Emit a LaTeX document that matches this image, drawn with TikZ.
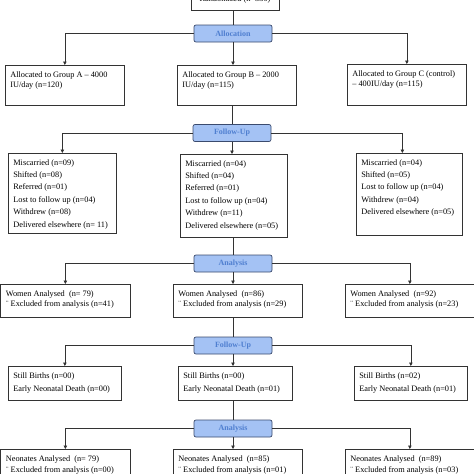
\documentclass[tikz,border=0pt]{standalone}
\usepackage{fontspec}
\setmainfont{Liberation Serif}
\usepackage{tikz}
\usetikzlibrary{arrows.meta, positioning}

\definecolor{linegray}{HTML}{333333}
\definecolor{stagefill}{HTML}{A4C2F4}
\definecolor{stageedge}{HTML}{3B4B6E}
\definecolor{stagetext}{HTML}{4F7FD0}

% box text: width, height (in pt), contents
\newcommand{\boxtext}[3]{\parbox[t][\dimexpr#2pt-12pt\relax][t]{\dimexpr#1pt-10pt\relax}{\raggedright #3}}

\tikzset{
  box/.style={draw=linegray, line width=0.7pt, anchor=north west, inner xsep=5pt, inner ysep=6pt, font=\fontsize{8.3}{10}\selectfont},
  stage/.style={draw=stageedge, fill=stagefill, rounded corners=2pt, line width=0.7pt, minimum width=78pt, minimum height=17pt, inner sep=0pt, text=stagetext, font=\fontsize{8}{9}\selectfont\bfseries},
  link/.style={draw=linegray, line width=0.7pt},
  arr/.style={link, -{Triangle[length=3.5pt, width=3.5pt]}}
}

\begin{document}
\begin{tikzpicture}[x=1pt, y=-1pt]
      \useasboundingbox (0,0) rectangle (474,474);

      % Randomisation
      \node[draw=linegray, line width=0.7pt, minimum width=88pt, minimum height=20pt, inner sep=0pt, font=\fontsize{8.3}{10}\selectfont] (rand) at (235,0) {Randomized (n=330)};

      % Allocation
      \node[stage] (alloc) at (233,33.5) {Allocation};
      \node[box] (gA) at (5,65) {\boxtext{119}{40}{Allocated to Group A – 4000\\IU/day (n=120)}};
      \node[box] (gB) at (177,65) {\boxtext{119}{40}{Allocated to Group B – 2000\\IU/day (n=115)}};
      \node[box] (gC) at (347,64) {\boxtext{119}{41}{Allocated to Group C (control)\\– 400IU/day (n=115)}};
      \draw[link] (alloc.north |- rand.south) -- (alloc.north);
      \draw[arr] (alloc.west) -| (gA.north);
      \draw[arr] (alloc.south) -- (alloc.south |- gB.north);
      \draw[arr] (alloc.east) -| (gC.north);

      % Follow-up of women
      \node[stage] (fu1) at (232,133) {Follow-Up};
      \node[box, font=\fontsize{8.3}{12.4}\selectfont] (fA) at (8,153) {\boxtext{108}{80}{Miscarried (n=09)\\Shifted (n=08)\\Referred (n=01)\\Lost to follow up (n=04)\\Withdrew (n=08)\\Delivered elsewhere (n= 11)}};
      \node[box, font=\fontsize{8.3}{12.4}\selectfont] (fB) at (180,154) {\boxtext{107}{83}{Miscarried (n=04)\\Shifted (n=04)\\Referred (n=01)\\Lost to follow up (n=04)\\Withdrew (n=11)\\Delivered elsewhere (n=05)}};
      \node[box, font=\fontsize{8.3}{12.4}\selectfont] (fC) at (356,153) {\boxtext{106}{82}{Miscarried (n=04)\\Shifted (n=05)\\Lost to follow up (n=04)\\Withdrew (n=04)\\Delivered elsewhere (n=05)}};
      \draw[link] (fu1.north |- gB.south) -- (fu1.north);
      \draw[arr] (fu1.west) -| (fA.north);
      \draw[arr] (fu1.south) -- (fu1.south |- fB.north);
      \draw[arr] (fu1.east) -| ([xshift=-7pt]fC.north);

      % Analysis of women
      \node[stage] (an1) at (233,263.5) {Analysis};
      \node[box] (aA) at (0.5,284) {\boxtext{129}{33}{Women Analysed~~(n= 79)\\¨ Excluded from analysis (n=41)}};
      \node[box] (aB) at (173,284) {\boxtext{129}{33}{Women Analysed~~(n=86)\\¨ Excluded from analysis (n=29)}};
      \node[box] (aC) at (345,284) {\boxtext{129}{33}{Women Analysed~~(n=92)\\¨ Excluded from analysis (n=23)}};
      \draw[link] (an1.north |- fB.south) -- (an1.north);
      \draw[arr] (an1.west) -| (aA.north);
      \draw[arr] (an1.south) -- (an1.south |- aB.north);
      \draw[arr] (an1.east) -| (aC.north);

      % Follow-up of neonates
      \node[stage] (fu2) at (233,345.5) {Follow-Up};
      \node[box, font=\fontsize{8.3}{13}\selectfont] (sA) at (8,366) {\boxtext{113}{34}{Still Births (n=00)\\Early Neonatal Death (n=00)}};
      \node[box, font=\fontsize{8.3}{13}\selectfont] (sB) at (178,366) {\boxtext{114}{34}{Still Births (n=00)\\Early Neonatal Death (n=01)}};
      \node[box, font=\fontsize{8.3}{13}\selectfont] (sC) at (354,366) {\boxtext{113}{34}{Still Births (n=02)\\Early Neonatal Death (n=01)}};
      \draw[link] (fu2.north |- aB.south) -- (fu2.north);
      \draw[arr] (fu2.west) -| (sA.north);
      \draw[arr] (fu2.south) -- (fu2.south |- sB.north);
      \draw[arr] (fu2.east) -| (sC.north);

      % Analysis of neonates
      \node[stage] (an2) at (233,428.5) {Analysis};
      \node[box, font=\fontsize{8.3}{11}\selectfont] (nA) at (0.5,449) {\boxtext{129}{40}{Neonates Analysed~~(n= 79)\\¨ Excluded from analysis (n=00)}};
      \node[box, font=\fontsize{8.3}{11}\selectfont] (nB) at (173,449) {\boxtext{129}{40}{Neonates Analysed~~(n=85)\\¨ Excluded from analysis (n=01)}};
      \node[box, font=\fontsize{8.3}{11}\selectfont] (nC) at (345,449) {\boxtext{129}{40}{Neonates Analysed~~(n=89)\\¨ Excluded from analysis (n=03)}};
      \draw[link] (an2.north |- sB.south) -- (an2.north);
      \draw[arr] (an2.west) -| (nA.north);
      \draw[arr] (an2.south) -- (an2.south |- nB.north);
      \draw[arr] (an2.east) -| (nC.north);
\end{tikzpicture}
\end{document}
